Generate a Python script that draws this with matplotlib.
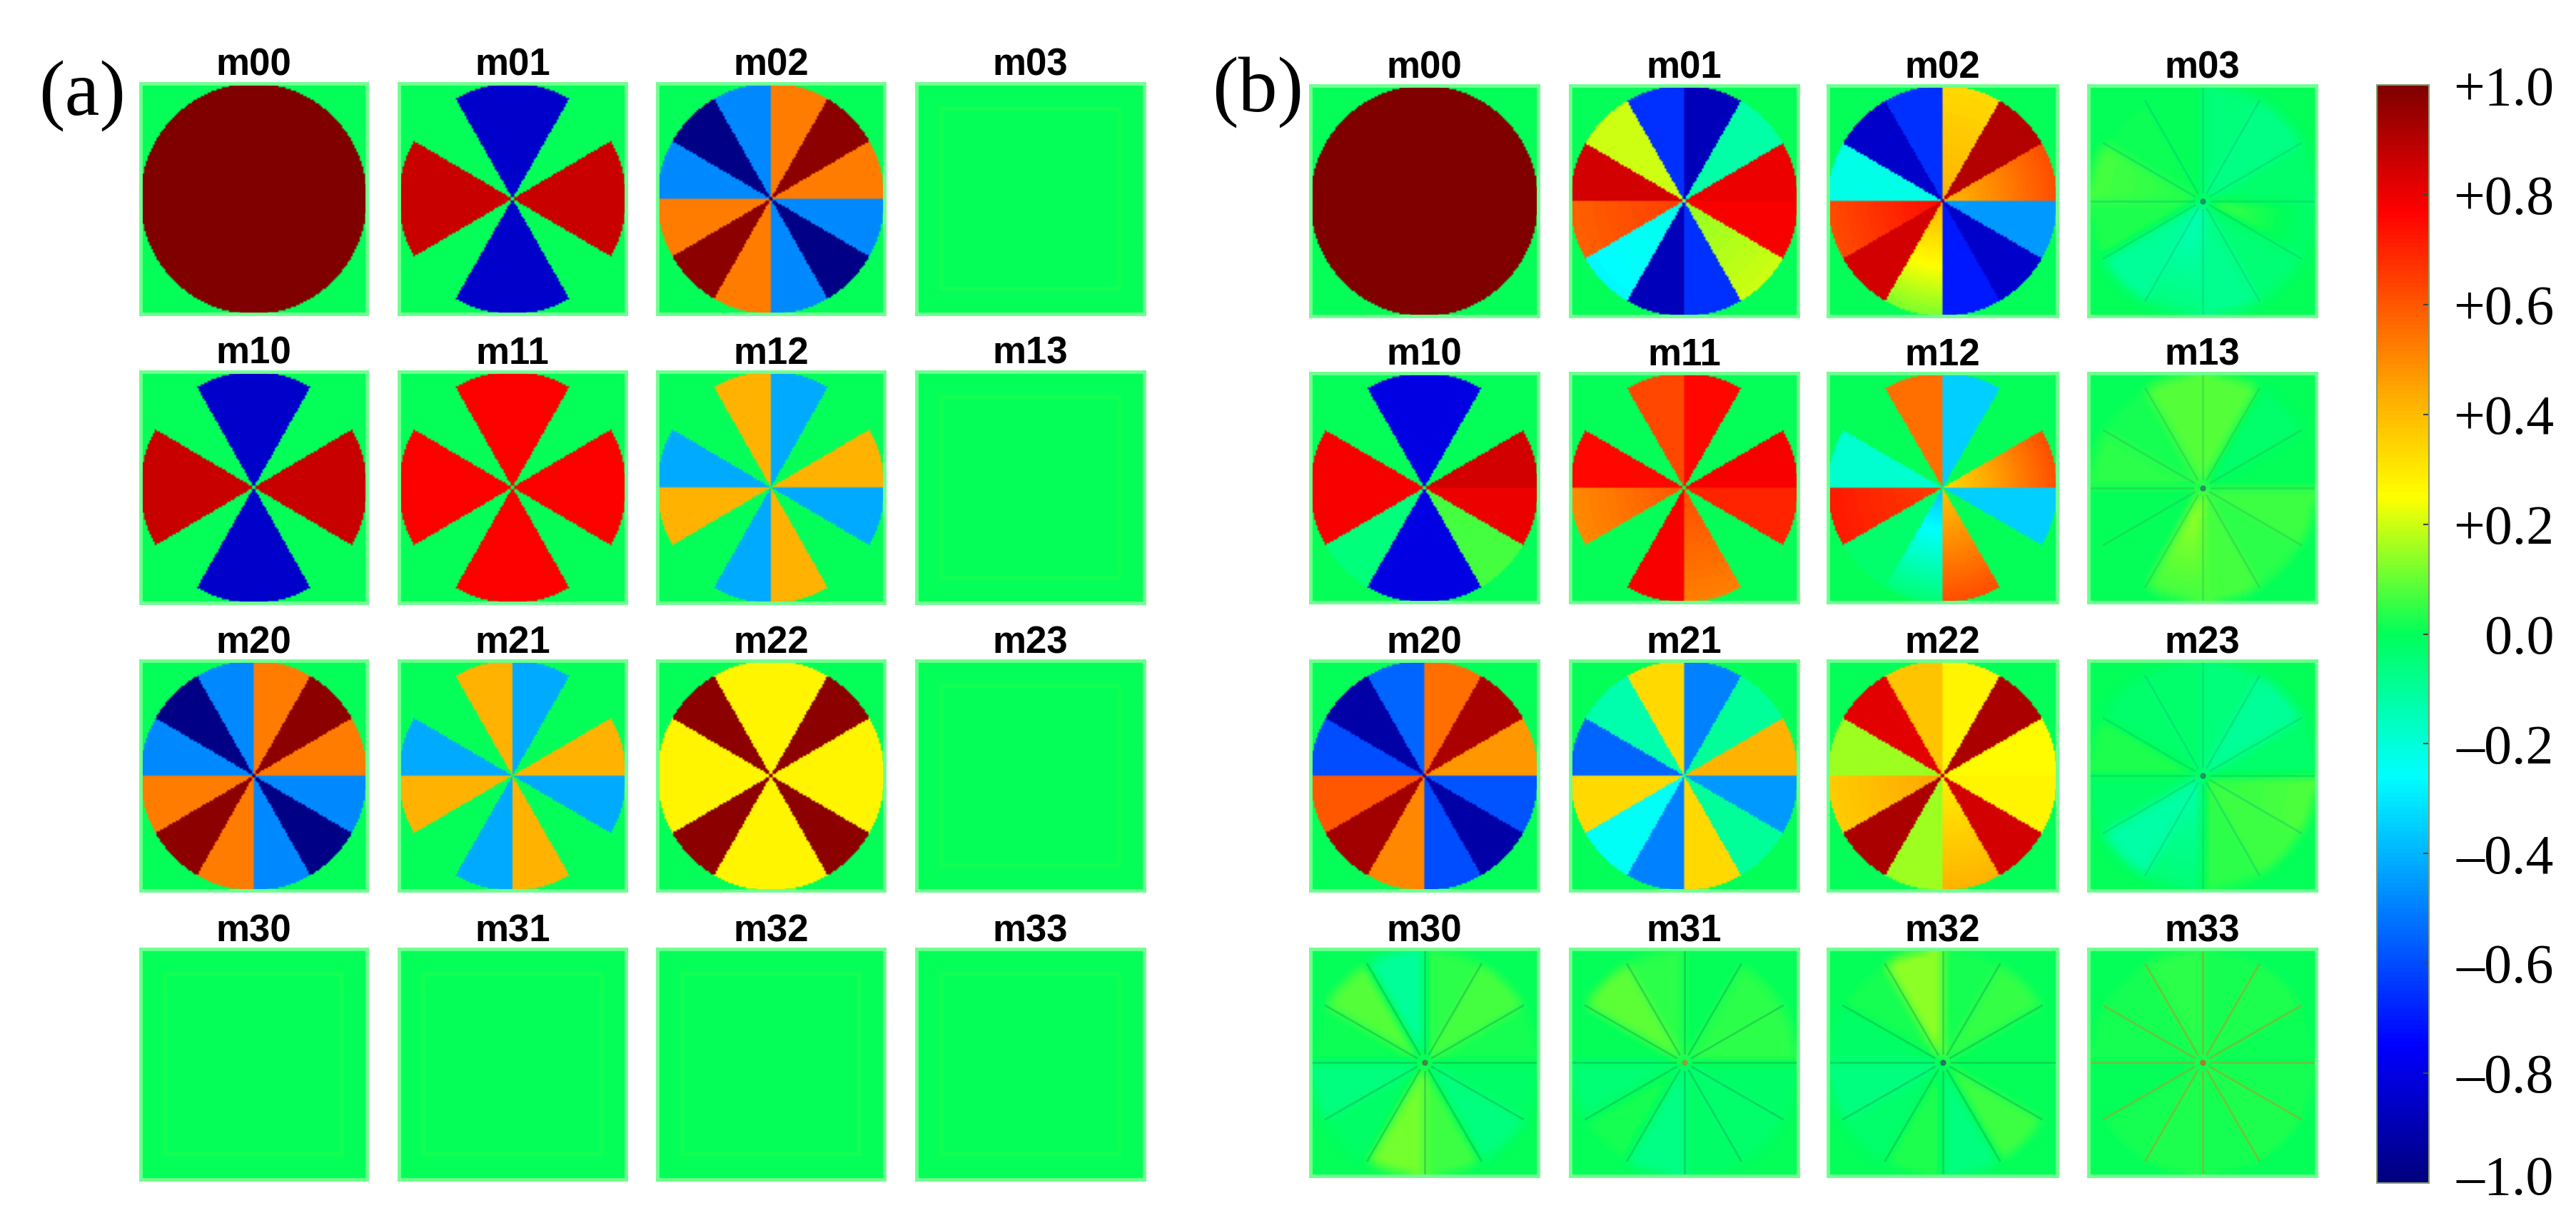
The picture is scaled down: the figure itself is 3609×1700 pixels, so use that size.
import numpy as np
import matplotlib
matplotlib.use('Agg')
import matplotlib.pyplot as plt
from matplotlib.colors import LinearSegmentedColormap, Normalize
from matplotlib.cm import ScalarMappable
from matplotlib.transforms import ScaledTranslation

W, H = 3609, 1700

# 12 sectors of 30 degrees, counter clockwise from +x
A_M00 = [1.0] * 12
A_M01 = [.86, 0, -.85, -.85, 0, .86, .86, 0, -.85, -.85, 0, .86]
A_M02 = [.53, .97, .53, -.48, -.98, -.48, .53, .97, .53, -.48, -.98, -.48]
A_M03 = [0] * 12
A_M10 = [.86, 0, -.85, -.85, 0, .86, .86, 0, -.85, -.85, 0, .86]
A_M11 = [.77, 0, .77, .77, 0, .77, .77, 0, .77, .77, 0, .77]
A_M12 = [.42, 0, -.42, .42, 0, -.42, .42, 0, -.42, .42, 0, -.42]
A_M13 = [0] * 12
A_M20 = [.53, .97, .53, -.48, -.98, -.48, .53, .97, .53, -.48, -.98, -.48]
A_M21 = [.42, 0, -.42, .42, 0, -.42, .42, 0, -.42, .42, 0, -.42]
A_M22 = [.27, .97, .27, .27, .97, .27, .27, .97, .27, .27, .97, .27]
A_M23 = [0] * 12
A_M30 = [0] * 12
A_M31 = [0] * 12
A_M32 = [0] * 12
A_M33 = [0] * 12

B_M00 = [1.0] * 12
B_M01 = [.8, -.12, -.88, -.65, .2, .85, .65, -.22, -.88, -.65, .14, .78]
B_M02 = [.4, .9, .42, -.65, -.85, -.22, .75, .85, .42, -.7, -.85, -.45]
B_M03 = [-.03, -.07, -.05, 0, .01, .03, .03, -.1, -.17, -.08, -.04, .08]
B_M10 = [.85, 0, -.8, -.8, 0, .78, .78, -.05, -.8, -.8, .07, .8]
B_M11 = [.78, 0, .75, .63, 0, .75, .6, 0, .78, .62, 0, .7]
B_M12 = [.32, 0, -.35, .55, 0, -.18, .65, -.03, -.38, .38, 0, -.35]
B_M13 = [0, -.03, .08, .08, .02, .04, 0, 0, .17, .07, .04, .06]
B_M20 = [.47, .92, .55, -.55, -.92, -.6, .6, .93, .5, -.6, -.92, -.58]
B_M21 = [.42, -.1, -.5, .33, -.13, -.55, .33, -.25, -.5, .33, -.1, -.45]
B_M22 = [.25, .92, .27, .38, .82, .15, .45, .92, .15, .28, .85, .27]
B_M23 = [-.03, -.1, -.05, -.03, -.03, .03, -.02, -.12, -.13, .04, .06, .04]
B_M30 = [.02, .07, .04, -.1, .08, .01, -.06, -.02, .11, .06, -.06, -.02]
B_M31 = [.04, .04, 0, .04, .09, 0, -.04, .02, -.07, -.02, -.03, -.02]
B_M32 = [0, .05, .02, .14, .02, -.02, -.06, -.03, .03, -.06, .06, 0]
B_M33 = [.01, .03, .02, .04, .02, .02, 0, .02, .03, .02, .03, .02]

# rim values where a sector clearly changes from the centre to the edge
B_RIMS = {'m01': {6: .58, 10: .2, 7: -.27},
          'm02': {0: .62, 2: .33, 6: .62, 8: .12},
          'm03': {5: .07, 8: -.05, 11: -.03},
          'm11': {6: .5, 9: .52},
          'm12': {0: .62, 6: .72, 8: -.04, 9: .62},
          'm13': {8: .06},
          'm22': {9: .42, 6: .36},
          'm23': {8: -.04, 11: .08}}

# colour of the thin spokes, only the faint panels show them
B_SPOKES = {'m03': '#00b878', 'm13': '#30b050', 'm23': '#00b878',
            'm30': '#109050', 'm31': '#109050', 'm32': '#109050',
            'm33': '#a0a030'}
B_CENTRE = {'m03': '#208060', 'm13': '#208060', 'm23': '#208060',
            'm30': '#507040', 'm31': '#a09040', 'm32': '#206060',
            'm33': '#d06020'}
spoke_angles = [0, 30, 60, 90, 120, 150, 180, 210, 240, 270, 300, 330]

# faint frame inside the empty panels
FRAME_VALUE = .02

names = [['m00', 'm01', 'm02', 'm03'],
         ['m10', 'm11', 'm12', 'm13'],
         ['m20', 'm21', 'm22', 'm23'],
         ['m30', 'm31', 'm32', 'm33']]

A_VALUES = {'m00': A_M00, 'm01': A_M01, 'm02': A_M02, 'm03': A_M03,
            'm10': A_M10, 'm11': A_M11, 'm12': A_M12, 'm13': A_M13,
            'm20': A_M20, 'm21': A_M21, 'm22': A_M22, 'm23': A_M23,
            'm30': A_M30, 'm31': A_M31, 'm32': A_M32, 'm33': A_M33}
B_VALUES = {'m00': B_M00, 'm01': B_M01, 'm02': B_M02, 'm03': B_M03,
            'm10': B_M10, 'm11': B_M11, 'm12': B_M12, 'm13': B_M13,
            'm20': B_M20, 'm21': B_M21, 'm22': B_M22, 'm23': B_M23,
            'm30': B_M30, 'm31': B_M31, 'm32': B_M32, 'm33': B_M33}

cbar_ticks = [1.0, .8, .6, .4, .2, 0.0, -.2, -.4, -.6, -.8, -1.0]
cbar_labels = ['+1.0', '+0.8', '+0.6', '+0.4', '+0.2', '0.0',
               '\u20130.2', '\u20130.4', '\u20130.6', '\u20130.8', '\u20131.0']

cmap = LinearSegmentedColormap.from_list('mueller', [
    (0.0, '#00007f'), (.125, '#0000ff'), (.25, '#0080ff'), (.37, '#00ffff'),
    (.5, '#00ff5a'), (.55, '#66ff33'), (.625, '#ffff00'), (.725, '#ffa500'),
    (.885, '#ff0000'), (1.0, '#800000')])
norm = Normalize(-1, 1)


def px_axes(fig, x0, x1, y0, y1):
    return fig.add_axes([x0 / W, 1 - y1 / H, (x1 - x0) / W, (y1 - y0) / H])


def blur(img, k=9):
    kernel = np.ones(k) / k
    pad = np.pad(img, k // 2, mode='edge')
    pad = np.apply_along_axis(lambda v: np.convolve(v, kernel, 'same'), 0, pad)
    pad = np.apply_along_axis(lambda v: np.convolve(v, kernel, 'same'), 1, pad)
    return pad[k // 2:-(k // 2), k // 2:-(k // 2)]


def sector_image(values, rims=None, soft=False, framed=False, n=128):
    c = (np.arange(n) + .5) / n * 2 - 1
    x, y = np.meshgrid(c, c)
    r = np.hypot(x, y)
    ang = np.degrees(np.arctan2(y, x)) % 360
    idx = (ang // 30).astype(int) % 12
    img = np.array(values, dtype=float)[idx]
    if rims:
        for sec, rim in rims.items():
            m = idx == sec
            img[m] = img[m] + (rim - img[m]) * r[m]
    img[r > 1] = 0
    if soft:
        img = blur(img)
    if framed:
        edge = np.maximum(np.abs(x), np.abs(y))
        img[(edge > .76) & (edge < .79)] = FRAME_VALUE
    return img


def draw_panel(fig, box, name, values, rims=None, spoke=None, centre=None):
    ax = px_axes(fig, *box)
    framed = all(v == 0 for v in values)
    ax.imshow(sector_image(values, rims, spoke is not None, framed), cmap=cmap,
              norm=norm, origin='lower', extent=[-1, 1, -1, 1], aspect='auto',
              interpolation='bilinear', interpolation_stage='rgba')
    if spoke is not None:
        for a in spoke_angles:
            t = np.radians(a)
            ax.plot([.08 * np.cos(t), np.cos(t)], [.08 * np.sin(t), np.sin(t)],
                    color=spoke, lw=2, alpha=.6 if name == 'm33' else .35)
        ax.plot([0], [0], 'o', color=centre, ms=5, alpha=.8)
    ax.set_xlim(-1, 1)
    ax.set_ylim(-1, 1)
    ax.set_xticks([])
    ax.set_yticks([])
    for s in ax.spines.values():
        s.set_color('#70ff90')
        s.set_linewidth(3.5)
    fig.text((box[0] + box[1]) / 2 / W, 1 - (box[2] - 11) / H, name, ha='center',
             va='baseline', fontsize=38, fontweight='bold',
             family='Liberation Sans')


def draw():
    fig = plt.figure(figsize=(W / 100, H / 100), dpi=100)

    cols_a = [(197, 514), (559, 877), (921, 1239), (1284, 1603)]
    rows_a = [(117, 440), (521, 845), (926, 1248), (1330, 1653)]
    cols_b = [(1836, 2155), (2200, 2519), (2561, 2882), (2926, 3245)]
    rows_b = [(120, 443), (523, 844), (926, 1248), (1330, 1648)]

    for i in range(4):
        for j in range(4):
            nm = names[i][j]
            draw_panel(fig, (*cols_a[j], *rows_a[i]), nm, A_VALUES[nm])
            draw_panel(fig, (*cols_b[j], *rows_b[i]), nm, B_VALUES[nm],
                       B_RIMS.get(nm), B_SPOKES.get(nm), B_CENTRE.get(nm))

    fig.text(115 / W, 1 - 135 / H, '(a)', ha='center', va='center', fontsize=79,
             family='Liberation Serif')
    fig.text(1762 / W, 1 - 130 / H, '(b)', ha='center', va='center', fontsize=79,
             family='Liberation Serif')

    cax = px_axes(fig, 3330, 3403, 119, 1658)
    cb = fig.colorbar(ScalarMappable(norm=norm, cmap=cmap), cax=cax)
    cb.set_ticks(cbar_ticks)
    cb.set_ticklabels(cbar_labels)
    cb.outline.set_edgecolor('#8a9a70')
    cb.outline.set_linewidth(1.5)
    cax.tick_params(axis='y', direction='in', length=6, width=1.5, pad=126,
                    color='#444444')
    for lab, tk in zip(cax.get_yticklabels(), cbar_ticks):
        lab.set_ha('right')
        lab.set_fontsize(56)
        lab.set_family('Liberation Serif')
        if abs(tk) == 1.0:
            off = -1 if tk > 0 else 11
            lab.set_transform(lab.get_transform()
                              + ScaledTranslation(0, off / 100, fig.dpi_scale_trans))

    fig.savefig('out.png', dpi=100)


if __name__ == '__main__':
    draw()
